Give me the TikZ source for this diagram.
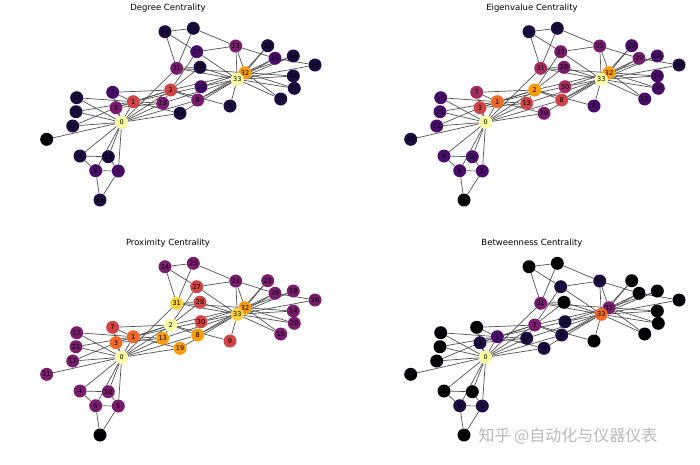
\documentclass[tikz,border=0pt]{standalone}
\usepackage{fontspec}
\setmainfont{DejaVu Sans}
\newfontfamily\cjk{Noto Sans CJK SC}
\usetikzlibrary{backgrounds}
\definecolor{c0}{HTML}{000004}
\definecolor{c1}{HTML}{1B0C41}
\definecolor{c2}{HTML}{4A0C6B}
\definecolor{c3}{HTML}{781C6D}
\definecolor{c4}{HTML}{A52C60}
\definecolor{c5}{HTML}{CF4446}
\definecolor{c6}{HTML}{ED6925}
\definecolor{c7}{HTML}{FB9B06}
\definecolor{c8}{HTML}{F7D13D}
\definecolor{c9}{HTML}{FCFFA4}
\def\levA{{9,5,5,3,1,2,2,2,3,1,1,0,1,3,1,1,1,1,1,1,1,1,1,3,1,1,1,2,1,2,2,3,7,9}}
\def\levB{{9,6,7,5,2,2,2,4,5,2,2,1,2,5,2,2,0,2,2,3,2,2,2,3,1,1,1,3,3,3,4,4,7,9}}
\def\levC{{9,6,9,6,3,3,3,5,7,5,3,3,3,7,3,3,0,3,3,7,3,3,3,3,3,3,3,5,5,3,5,8,7,8}}
\def\levD{{9,2,3,1,0,1,1,0,1,0,0,0,0,1,0,0,0,0,0,1,0,0,0,1,0,0,0,1,0,0,1,3,3,6}}
\tikzset{vtx/.style={circle,minimum size=13pt,inner sep=0pt,font=\fontsize{6.5}{7}\selectfont},
  edg/.style={draw=black!68,line width=0.7pt},
  ttl/.style={font=\fontsize{8.5}{10}\selectfont}}
\newcommand\karpanel[5]{%
 \begin{scope}[shift={(#2,#3)}]
 \node[ttl] (#1t) at (138,-7) {#5};
 \foreach \i/\x/\y in {0/91.7/107.3,1/103.3/86.7,2/140.7/75,3/86/92.7,4/50/141,5/88.3/156,6/65.7/155.7,7/82.7/77.3,8/167.7/85,9/200/91,10/78.3/141.7,11/16.7/124.3,12/42.7/111,13/132.7/88.3,14/263.3/61,15/250.7/84,16/70/185,17/46.7/82.7,18/263.3/41,19/150/98.3,20/264.3/73.3,21/46/96.7,22/237.7/30.7,23/205.7/31,24/135/16.7,25/163.3/13.3,26/285/50,27/166.7/36.7,28/170/52.3,29/245/43.3,30/171/71.7,31/146.7/53.3,32/215/57.7,33/207.3/64.3}{
   \pgfmathtruncatemacro\L{#4[\i]}
   \node[vtx,fill=c\L] (#1\i) at (\x,\y) {\i};
 }
 \begin{scope}[on background layer]
 \foreach \a/\bl in {0/{1,2,3,4,5,6,7,8,10,11,12,13,17,19,21,31},1/{2,3,7,13,17,19,21,30},2/{3,7,8,9,13,27,28,32},3/{7,12,13},4/{6,10},5/{6,10,16},6/{16},8/{30,32,33},9/{33},13/{33},14/{32,33},15/{32,33},18/{32,33},19/{33},20/{32,33},22/{32,33},23/{25,27,29,32,33},24/{25,27,31},25/{31},26/{29,33},27/{33},28/{31,33},29/{32,33},30/{32,33},31/{32,33},32/{33}}{
   \foreach \b in \bl { \draw[edg] (#1\a) -- (#1\b); }
 }
 \end{scope}
 \end{scope}}
\begin{document}
\begin{tikzpicture}[x=1pt,y=-1pt]
\useasboundingbox (0,0) rectangle (700,464);
\karpanel{A}{30}{15}{\levA}{Degree Centrality}
\karpanel{B}{394}{15}{\levB}{Eigenvalue Centrality}
\karpanel{C}{30}{250}{\levC}{Proximity Centrality}
\karpanel{D}{394}{250}{\levD}{Betweenness Centrality}
\node[font=\cjk\fontsize{16}{18}\selectfont,text=black!28] (wm) at (568,436) {知乎 @自动化与仪器仪表};
\end{tikzpicture}
\end{document}
